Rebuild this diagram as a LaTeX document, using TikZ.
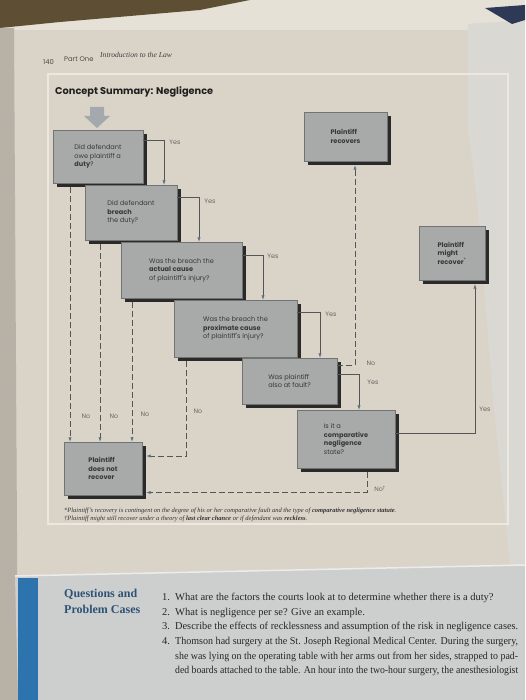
\documentclass[tikz,border=0pt]{standalone}
\usepackage{fontspec}
\usepackage{graphicx}
\setmainfont{Liberation Serif}
\newfontfamily\gotham{Poppins}
\usetikzlibrary{arrows.meta,shadows}
\definecolor{pagec}{HTML}{DAD3C8}
\definecolor{pagelight}{HTML}{DAD8D2}
\definecolor{framec}{HTML}{ECE8E1}
\definecolor{boxgray}{HTML}{A8AAA9}
\definecolor{shadowc}{HTML}{2A2A2A}
\definecolor{boxtext}{HTML}{383838}
\definecolor{linec}{HTML}{555555}
\definecolor{tipc}{HTML}{5B7086}
\definecolor{bigarrow}{HTML}{A3A9AC}
\definecolor{qblue}{HTML}{2E5276}
\definecolor{lowerc}{HTML}{CDCFCE}
\definecolor{stripblue}{HTML}{2D74AE}
\definecolor{darktop}{HTML}{5E4E34}
\definecolor{creamtop}{HTML}{E6E1D7}
\definecolor{navy}{HTML}{2E3A55}
\definecolor{edgec}{HTML}{B8B1A5}
\newcommand{\fitline}[1]{\resizebox{343pt}{\height}{#1}}
\begin{document}
\begin{tikzpicture}[x=1pt,y=-1pt,
  gbox/.style={draw=black!55, line width=0.4pt, fill=boxgray,
    drop shadow={shadow xshift=4pt, shadow yshift=-4pt, fill=shadowc, opacity=1},
    align=left, text=boxtext, font=\gotham\fontsize{6.6}{8.5}\selectfont, inner sep=0pt},
  yesline/.style={draw=linec, line width=0.5pt, -{Latex[length=4.5pt,width=3.2pt,color=tipc]}},
  noline/.style={draw=linec, line width=0.6pt, dash pattern=on 6pt off 3pt, -{Latex[length=4.5pt,width=3.2pt,color=tipc]}},
  lbl/.style={font=\gotham\fontsize{6.4}{7}\selectfont, text=black!60, inner sep=0pt},
  foot/.style={font=\itshape\fontsize{6.5}{7}\selectfont, text=black!80, anchor=base west, inner sep=0pt},
  qitem/.style={font=\fontsize{10.5}{14.6}\selectfont, text=black!85, anchor=north west, align=left, inner sep=0pt}
]
\useasboundingbox (0,0) rectangle (525,700);
% ---------- background ----------
\fill[pagec] (0,0) rectangle (525,700);
\fill[creamtop] (0,0) rectangle (525,30);
\fill[pagelight] (468,24) -- (525,20) -- (525,565) -- (510,565) -- (493,400) -- (477,200) -- (468,130) -- cycle;
\fill[darktop] (0,0) -- (250,0) -- (200,10) -- (60,22) -- (0,28) -- cycle;
\fill[navy] (485,8) -- (525,5) -- (525,20) -- (512,24) -- cycle;
\fill[edgec] (0,28) -- (14,28) -- (18,700) -- (0,700) -- cycle;
\foreach \xx in {3,6,9,12} \draw[black!30, line width=0.3pt] (\xx,40) -- (\xx+3,700);
\fill[lowerc] (15,576) -- (525,565) -- (525,700) -- (18,700) -- cycle;
\draw[white!85!gray, line width=1.5pt] (15,576) -- (525,565);
\fill[stripblue] (18,578) rectangle (38,700);
% ---------- page header ----------
\node[font=\gotham\fontsize{6.8}{7}\selectfont, text=black!70, anchor=base west, inner sep=0pt] (pgno) at (43,65) {140};
\node[font=\gotham\fontsize{6.8}{7}\selectfont, text=black!70, anchor=base west, inner sep=0pt] (partone) at (64,62) {Part One};
\node[font=\itshape\fontsize{7.6}{8}\selectfont, text=black!75, anchor=base west, inner sep=0pt] (chap) at (100,58) {Introduction to the Law};
% ---------- frame ----------
\draw[framec, line width=1.6pt] (48,74) rectangle (508,524);
\node[font=\gotham\bfseries\fontsize{9.8}{12}\selectfont, text=black!88, anchor=base west, inner sep=0pt] (title) at (55,95) {Concept Summary: Negligence};
\fill[bigarrow] (90,107) -- (104,107) -- (104,116) -- (110,116) -- (97,128) -- (84,116) -- (90,116) -- cycle;
% ---------- boxes ----------
\node[gbox, minimum width=90pt, minimum height=53pt] (b1) at (98,156.5) {Did defendant\\owe plaintiff a\\\textbf{duty}?};
\node[gbox, minimum width=92pt, minimum height=55pt] (b2) at (131,212.5) {Did defendant\\\textbf{breach}\\the duty?};
\node[gbox, minimum width=121pt, minimum height=56pt] (b3) at (181.5,270) {Was the breach the\\\textbf{actual cause}\\of plaintiff's injury?};
\node[gbox, minimum width=123pt, minimum height=57pt] (b4) at (235.5,328.5) {Was the breach the\\\textbf{proximate cause}\\of plaintiff's injury?};
\node[gbox, minimum width=95pt, minimum height=46pt] (b5) at (289.5,381) {Was plaintiff\\also at fault?};
\node[gbox, minimum width=98pt, minimum height=58pt] (b6) at (346,439) {Is it a\\\textbf{comparative}\\\textbf{negligence}\\state?};
\node[gbox, minimum width=83pt, minimum height=49pt] (rec) at (345.5,136.5) {\textbf{Plaintiff}\\\textbf{recovers}};
\node[gbox, minimum width=66pt, minimum height=54pt] (might) at (452,253) {\textbf{Plaintiff}\\\textbf{might}\\\textbf{recover}\textsuperscript{*}};
\node[gbox, minimum width=78pt, minimum height=53pt] (dnr) at (103,468.5) {\textbf{Plaintiff}\\\textbf{does not}\\\textbf{recover}};
% ---------- yes connectors ----------
\draw[yesline] ([yshift=-10pt]b1.north east) -| ([xshift=33pt]b2.north);
\draw[yesline] ([yshift=-12pt]b2.north east) -| ([xshift=17.5pt]b3.north);
\draw[yesline] ([yshift=-13pt]b3.north east) -| ([xshift=27.5pt]b4.north);
\draw[yesline] ([yshift=-12pt]b4.north east) -| ([xshift=30.5pt]b5.north);
\draw[yesline] ([yshift=-16pt]b5.north east) -| ([xshift=13pt]b6.north);
\draw[yesline] ([yshift=-23pt]b6.north east) -| ([xshift=23pt,yshift=-4pt]might.south);
% ---------- no connectors ----------
\draw[noline] ([yshift=-7pt]b5.north east) -| ([xshift=9.5pt,yshift=-4pt]rec.south);
\draw[noline] ([xshift=-28pt,yshift=-4pt]b1.south) -- ([xshift=-33pt]dnr.north);
\draw[noline] ([xshift=-31pt,yshift=-4pt]b2.south) -- ([xshift=-3pt]dnr.north);
\draw[noline] ([xshift=-49.5pt,yshift=-4pt]b3.south) -- ([xshift=29pt]dnr.north);
\draw[noline] ([xshift=-49.5pt,yshift=-4pt]b4.south) |- ([xshift=4pt,yshift=12.5pt]dnr.east);
\draw[noline] ([xshift=21pt,yshift=-4pt]b6.south) |- ([xshift=4pt,yshift=-24pt]dnr.east);
% ---------- labels ----------
\node[lbl] (y1) at (175,142) {Yes};
\node[lbl] (y2) at (210,201) {Yes};
\node[lbl] (y3) at (273,256) {Yes};
\node[lbl] (y4) at (331,314) {Yes};
\node[lbl] (n5) at (371,363) {No};
\node[lbl] (y5) at (373,382) {Yes};
\node[lbl] (y6) at (485,409) {Yes};
\node[lbl] (n1) at (86,416) {No};
\node[lbl] (n2) at (114,416) {No};
\node[lbl] (n3) at (145,414) {No};
\node[lbl] (n4) at (198,411) {No};
\node[lbl] (n6) at (380,489) {No\textsuperscript{\fontspec{DejaVu Sans}†}};
% ---------- footnotes ----------
\node[foot] (f1) at (64,512) {*Plaintiff's recovery is contingent on the degree of his or her comparative fault and the type of \textbf{comparative negligence statute}.};
\node[foot] (f2) at (64,520.5) {\textdagger Plaintiff might still recover under a theory of \textbf{last clear chance} or if defendant was \textbf{reckless}.};
% ---------- questions ----------
\node[font=\bfseries\fontsize{12}{15.5}\selectfont, text=qblue, anchor=north west, align=left, inner sep=0pt] (qhead) at (64,589) {Questions and\\Problem Cases};
\node[qitem] (qlist) at (162,593) {%
\makebox[13pt][l]{1.}What are the factors the courts look at to determine whether there is a duty?\\
\makebox[13pt][l]{2.}What is negligence per se? Give an example.\\
\makebox[13pt][l]{3.}\fitline{Describe the effects of recklessness and assumption of the risk in negligence cases.}\\
\makebox[13pt][l]{4.}\fitline{Thomson had surgery at the St. Joseph Regional Medical Center. During the surgery,}\\
\hspace*{13pt}\fitline{she was lying on the operating table with her arms out from her sides, strapped to pad-}\\
\hspace*{13pt}\fitline{ded boards attached to the table. An hour into the two-hour surgery, the anesthesiologist}};
\end{tikzpicture}
\end{document}
